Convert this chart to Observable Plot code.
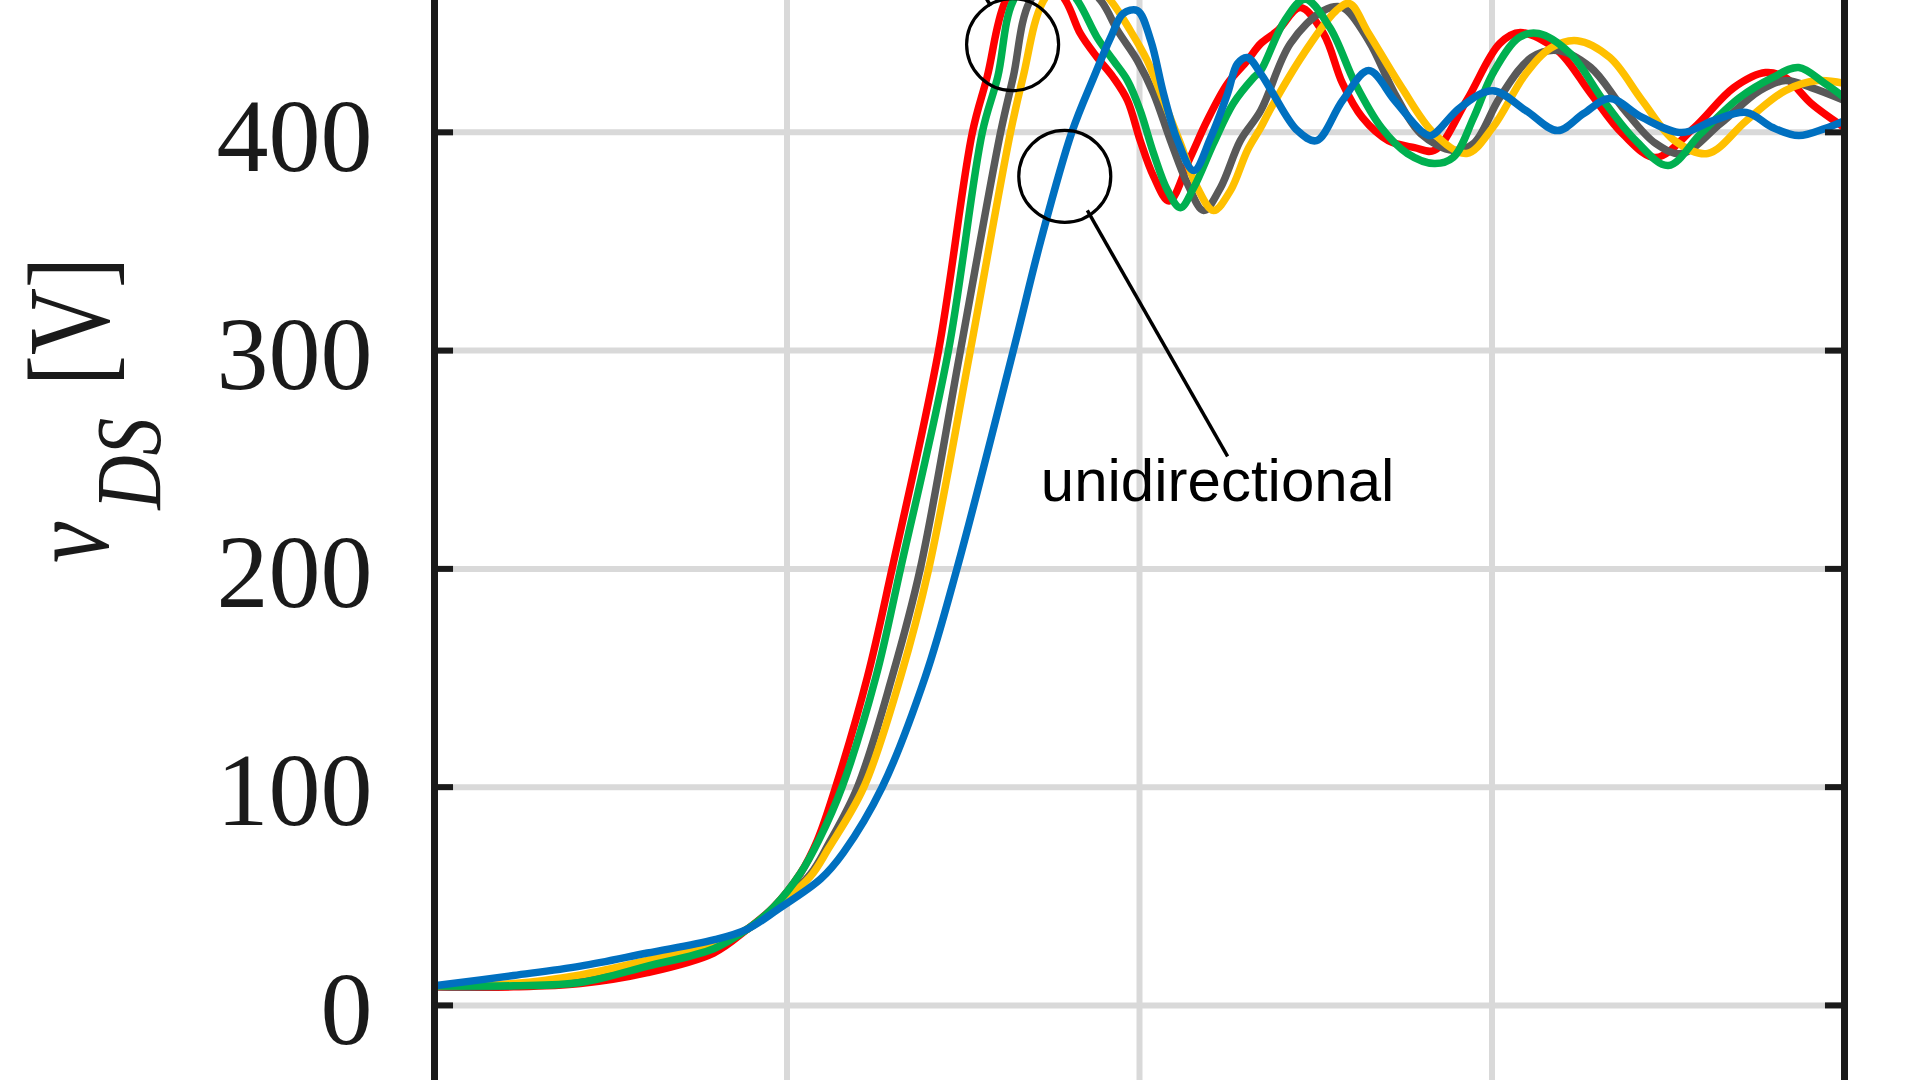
<!DOCTYPE html>
<html>
<head>
<meta charset="utf-8">
<script src="https://cdn.jsdelivr.net/npm/d3@7"></script>
<script src="https://cdn.jsdelivr.net/npm/@observablehq/plot@0.6"></script>
<style>
  html, body { margin: 0; padding: 0; background: #ffffff; }
  #chart svg { display: block; }
</style>
</head>
<body>
<div id="chart"></div>
<script>
// ---- data (time t in ns, drain-source voltage in V) ----
const yTicks = [0, 100, 200, 300, 400];
const xGrid = [50, 100, 150];
const xEdges = [0, 200];

const seriesNames = ["red", "gray", "yellow", "green", "blue"];
const seriesColors = ["#ff0000", "#595959", "#ffc000", "#00b050", "#0070c0"];

const red = [[0,8.5],[11.2,8.5],[20.7,10],[30.2,15],[39.6,24],[44.4,35],[48.1,45],[51.9,60.5],[54.3,75.6],[56.9,100],[61.4,150.4],[64.9,200],[71.5,300],[76.3,400],[78.4,425.5],[81.0,460.4],[85.0,478],[89.5,460.4],[91.6,445.3],[94.0,434.3],[96.3,425.1],[98.3,414.6],[100.1,396.2],[102.0,379.8],[104.2,368.5],[107.2,388.5],[109.6,405.4],[112.5,422.4],[115.3,432.9],[117.2,440.7],[119.6,446.6],[122.8,457.2],[126.1,445.3],[128.8,422.4],[131.6,406.8],[135.3,396.2],[139.0,393.0],[141.8,391.7],[146.4,414.6],[151.1,440.7],[154.0,445.7],[159.3,437.5],[164.0,417.8],[168.5,399.4],[173.2,388.5],[178.7,402.2],[184.3,420.5],[188.8,427.4],[191.6,425.1],[195.3,413.2],[200,402.2]];

const green = [[0,9],[11.2,9],[20.7,10.5],[30.2,18],[39.6,26],[44.4,35],[48.1,45],[51.9,60.5],[54.5,75.6],[57.8,100],[62.6,150.4],[66.1,200],[72.9,300],[77.7,400],[79.9,425.5],[82.1,460.4],[86.7,478],[91.2,460.4],[94.0,443.4],[96.3,432.9],[98.3,423.7],[100.1,410],[102.0,390.3],[104.0,373.3],[105.8,365.5],[107.7,374.7],[110.5,394.9],[113.3,413.2],[116.2,425.1],[117.2,428.3],[120.6,451.2],[123.5,461],[127.0,448],[130.6,422.4],[134.3,402.2],[138.0,390.3],[141.8,385.7],[144.5,388.5],[147.4,406.8],[150.1,426.9],[153.8,443.4],[156.6,445.3],[161.1,436.1],[165.8,414.6],[170.4,396.2],[175.0,384.8],[179.6,399.4],[185.1,415.9],[189.8,425.1],[193.5,429.7],[197.2,422.4],[200,415.9]];

const gray = [[0,8.5],[11.2,9],[20.7,12],[30.2,19],[39.6,27],[44.4,35],[48.1,44],[53.3,60],[55.9,74],[60.0,100],[64.9,150.4],[68.9,200],[74.6,300],[80.3,400],[82.1,425.5],[84.5,460.4],[89.2,476],[94.5,460.4],[96.9,446.6],[99.7,432.9],[102.0,417.8],[104.4,396.2],[106.8,376.5],[109.1,364.2],[111.5,374.7],[114.3,396.2],[117.2,410.0],[121.4,440.7],[126.1,455.8],[128.8,457.2],[132.5,442.0],[136.2,417.8],[139.9,399.4],[144.5,391.7],[147.4,394.9],[151.1,415.9],[155.6,434.3],[159.3,437.5],[164.0,429.7],[168.5,411.4],[173.2,394.9],[176.9,390.3],[182.4,404.0],[188.0,419.1],[191.6,423.7],[195.3,420.5],[200,414.6]];

const yellow = [[0,9],[11.2,10],[20.7,14],[30.2,20.6],[39.6,28],[44.4,35],[48.1,44],[53.3,59],[55.9,72],[60.9,100],[66.1,150.4],[70.1,200],[76.0,300],[81.7,400],[83.5,425.5],[86.4,460.4],[91.1,476],[95.9,460.4],[98.7,446.6],[101.1,432.9],[103.4,414.6],[105.8,394.9],[108.2,374.7],[110.5,364.2],[112.9,373.3],[115.3,391.7],[117.2,402.2],[118.7,411.4],[123.3,436.1],[127.9,455.8],[129.8,459],[132.5,445.3],[137.2,420.5],[141.8,399.4],[146.4,390.3],[150.1,402.2],[154.8,426.9],[158.4,438.8],[162.1,442.0],[166.7,434.3],[171.3,414.6],[175.9,396.2],[180.6,390.3],[186.1,405.4],[191.6,419.1],[196.2,423.7],[200,422.4]];

const blue = [[0,9],[11.2,13.7],[20.7,18],[30.2,24],[39.6,30],[44.4,35],[48.7,44],[54.8,58],[58.0,70],[63.5,100],[69.6,150.4],[74.1,200],[82.1,300],[86.0,350.4],[90.4,400],[93.5,425.1],[95.9,443.4],[97.7,454.4],[99.7,455.8],[101.6,442.0],[103.4,417.8],[105.4,396.2],[107.7,382.5],[110.1,397.6],[112.5,417.8],[113.9,431.5],[115.3,434.3],[117.2,426.9],[118.7,419.1],[122.4,400.8],[125.1,396.2],[128.8,414.6],[132.5,428.3],[136.2,414.6],[139.9,400.8],[141.3,398.5],[145.5,411.4],[150.1,419.1],[154.8,410.0],[159.3,400.8],[163.0,408.6],[166.7,415.5],[171.3,406.8],[176.9,399.9],[181.4,405.4],[186.1,409.1],[189.8,402.2],[193.5,398.5],[197.2,401.7],[200,405.4]];

// annotations (data coordinates)
const markerCircles = [[82.0, 440.2], [89.4, 379.8]];
const leaderLines = [[92.6, 364.2, 112.5, 251.5], [78.9, 458.0, 76.2, 472.0]];
const annotationText = [[86.0, 231.0, "unidirectional"]];

// ---- build table ----
const seriesData = {red, gray, yellow, green, blue};
const lineMarks = seriesNames.map((name, i) =>
  Plot.line(seriesData[name].map(([t, v]) => ({t, v})), {
    x: "t", y: "v", stroke: seriesColors[i], strokeWidth: 7.5,
    curve: "catmull-rom", clip: true, strokeLinejoin: "round"
  })
);

const serif = "'Liberation Serif', 'DejaVu Serif', serif";

const chart = Plot.plot({
  width: 1920,
  height: 1080,
  marginLeft: 434,
  marginRight: 76,
  marginTop: 0,
  marginBottom: 0,
  x: {domain: [0, 200], axis: null},
  y: {domain: [-34.4, 460.4], axis: null},
  style: {background: "white"},
  marks: [
    Plot.ruleY(yTicks, {stroke: "#d9d9d9", strokeWidth: 6}),
    Plot.ruleX(xGrid, {stroke: "#d9d9d9", strokeWidth: 6}),
    ...lineMarks,
    Plot.dot(markerCircles, {x: d => d[0], y: d => d[1], r: 46, stroke: "#000", strokeWidth: 3.2, fill: "none", clip: true}),
    Plot.link(leaderLines, {x1: d => d[0], y1: d => d[1], x2: d => d[2], y2: d => d[3], stroke: "#000", strokeWidth: 3.5, clip: true}),
    Plot.text(annotationText, {x: d => d[0], y: d => d[1], text: d => d[2], textAnchor: "start", lineAnchor: "bottom",
      fontSize: 60, fontFamily: "'Liberation Sans', Arial, sans-serif", fill: "#000"}),
    Plot.ruleX(xEdges, {stroke: "#1a1a1a", strokeWidth: 7}),
    Plot.ruleY(yTicks, {x1: 0, x2: 2.7, stroke: "#1a1a1a", strokeWidth: 6}),
    Plot.ruleY(yTicks, {x1: 197.3, x2: 200, stroke: "#1a1a1a", strokeWidth: 6}),
    Plot.axisY(yTicks, {anchor: "left", tickSize: 0, tickPadding: 62, label: null,
      fontSize: 104, fontFamily: serif, fill: "#1a1a1a", dy: 5})
  ]
});

document.getElementById("chart").appendChild(chart);

// y-axis title: v_DS [V]
const svg = d3.select(chart);
const title = svg.append("text")
  .attr("transform", "translate(108,563) rotate(-90) scale(0.8,1)")
  .attr("font-family", serif)
  .attr("fill", "#1a1a1a")
  .attr("text-anchor", "start");
title.append("tspan").attr("font-style", "italic").attr("font-size", 116).text("v");
title.append("tspan").attr("font-style", "italic").attr("font-size", 94).attr("dx", 15).attr("dy", 52).text("DS");
title.append("tspan").attr("font-size", 116).attr("dx", 40).attr("dy", -52).text("[V]");
</script>
</body>
</html>
